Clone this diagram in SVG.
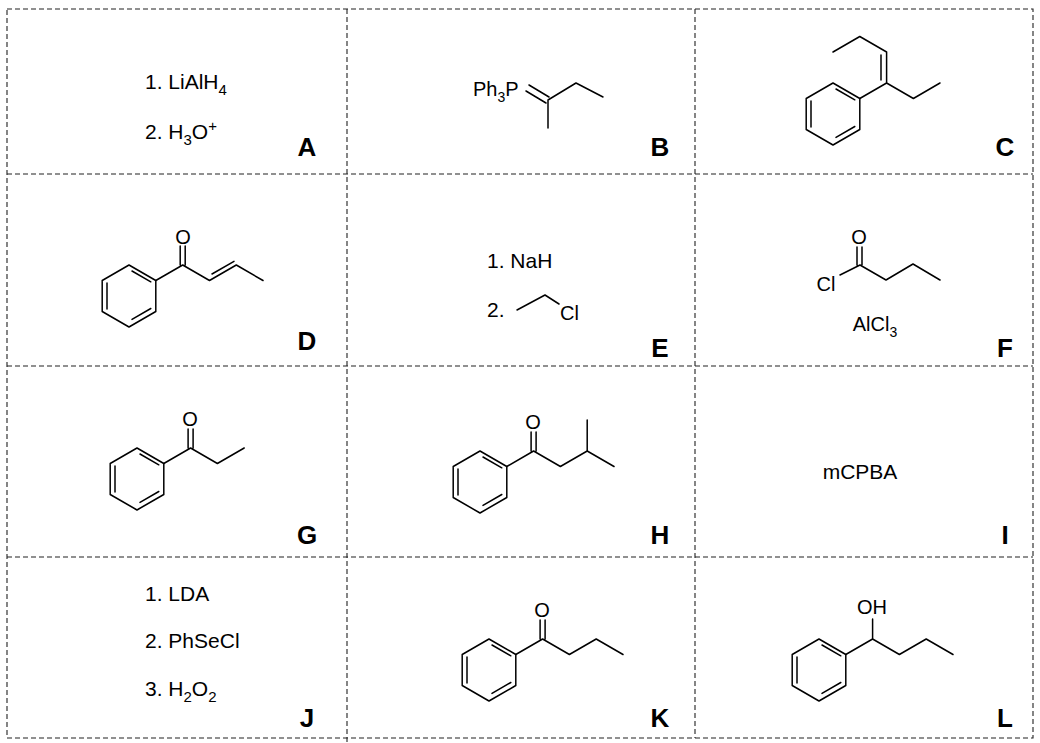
<svg xmlns="http://www.w3.org/2000/svg" width="1040" height="743" viewBox="0 0 1040 743">
<style>
.g{stroke:#222;stroke-width:1.1;stroke-dasharray:5 3;fill:none}
.b{stroke:#000;stroke-width:1.5;fill:none;stroke-linecap:round;stroke-linejoin:round}
text{font-family:"Liberation Sans",Arial,sans-serif;fill:#000}
.r{font-size:21px}
.a{font-size:20px}
.L{font-size:26px;font-weight:bold;text-anchor:middle}
</style>
<defs>
<g id="ph">
<polygon class="b" points="0,-31 26.8,-15.5 26.8,15.5 0,31 -26.8,15.5 -26.8,-15.5"/>
<path class="b" d="M3,-25 L21.8,-14.2 M21.8,12.5 L3,23.4 M-22,13 L-22,-13"/>
</g>
</defs>
<g id="grid">
<rect class="g" x="7" y="9" width="1026" height="729"/>
<line class="g" x1="347" y1="9" x2="347" y2="743"/>
<line class="g" x1="695" y1="9" x2="695" y2="738"/>
<line class="g" x1="7" y1="174" x2="1033" y2="174"/>
<line class="g" x1="7" y1="366" x2="1033" y2="366"/>
<line class="g" x1="7" y1="557" x2="1033" y2="557"/>
</g>
<g id="A">
<text class="r" x="145" y="89">1. LiAlH<tspan font-size="15" dy="6">4</tspan></text>
<text class="r" x="145" y="139">2. H<tspan font-size="15" dy="6">3</tspan><tspan dy="-6">O</tspan><tspan font-size="15" dy="-8">+</tspan></text>
<text class="L" x="307" y="156">A</text>
</g>
<g id="B">
<text class="a" x="473" y="96">Ph<tspan font-size="14" dy="6">3</tspan><tspan dy="-6">P</tspan></text>
<path class="b" d="M529,85 L549,97 M526,91 L546,103 M548,100 L576,83 L603,97 M548,100 L548,128"/>
<text class="L" x="660" y="156">B</text>
</g>
<g id="C">
<use href="#ph" x="833" y="114"/>
<path class="b" d="M859.8,98.5 L886.6,83 L886.6,52 L859.8,36.5 L833,52 M881,80 L881,55 M886.6,83 L913.4,98.5 L940,83"/>
<text class="L" x="1005" y="156">C</text>
</g>
<g id="D">
<use href="#ph" x="129" y="296"/>
<path class="b" d="M155.8,280.5 L182.7,265 L209.5,280.5 L236.3,265 L263,280.5 M185.2,265 L185.2,246 M180.2,265 L180.2,246 M212,274 L234,261.3"/>
<text class="a" x="183" y="244" text-anchor="middle">O</text>
<text class="L" x="307" y="350">D</text>
</g>
<g id="E">
<text class="r" x="487" y="268">1. NaH</text>
<text class="r" x="487" y="317">2.</text>
<path class="b" d="M517,310 L545,295 L559,304"/>
<text class="a" x="560" y="320">Cl</text>
<text class="L" x="660" y="357">E</text>
</g>
<g id="F">
<path class="b" d="M840,275 L860,265 L886,280 L913,264 L940,280 M862,265 L862,247 M857,265 L857,247"/>
<text class="a" x="859" y="244" text-anchor="middle">O</text>
<text class="a" x="826" y="291" text-anchor="middle">Cl</text>
<text class="a" x="875" y="331" text-anchor="middle">AlCl<tspan font-size="14" dy="6">3</tspan></text>
<text class="L" x="1005" y="357">F</text>
</g>
<g id="G">
<use href="#ph" x="137" y="479"/>
<path class="b" d="M163.8,463.5 L190.6,448 L217.4,463.5 L244.2,448 M193.1,448 L193.1,429 M188.1,448 L188.1,429"/>
<text class="a" x="190" y="426" text-anchor="middle">O</text>
<text class="L" x="307" y="544">G</text>
</g>
<g id="H">
<use href="#ph" x="480" y="482"/>
<path class="b" d="M506.8,466.5 L533.6,451 L560.4,466.5 L587.2,451 L587.2,420 M587.2,451 L614,466.5 M536.1,451 L536.1,432 M531.1,451 L531.1,432"/>
<text class="a" x="533" y="429" text-anchor="middle">O</text>
<text class="L" x="660" y="544">H</text>
</g>
<g id="I">
<text class="r" x="860" y="479" text-anchor="middle">mCPBA</text>
<text class="L" x="1005" y="544">I</text>
</g>
<g id="J">
<text class="r" x="145" y="601">1. LDA</text>
<text class="r" x="145" y="648">2. PhSeCl</text>
<text class="r" x="145" y="696">3. H<tspan font-size="15" dy="6">2</tspan><tspan dy="-6">O</tspan><tspan font-size="15" dy="6">2</tspan></text>
<text class="L" x="307" y="727">J</text>
</g>
<g id="K">
<use href="#ph" x="489" y="670"/>
<path class="b" d="M515.8,654.5 L542.6,639 L569.4,654.5 L596.2,639 L623,654.5 M545.1,639 L545.1,620 M540.1,639 L540.1,620"/>
<text class="a" x="542" y="617" text-anchor="middle">O</text>
<text class="L" x="660" y="727">K</text>
</g>
<g id="L">
<use href="#ph" x="819" y="670"/>
<path class="b" d="M845.8,654.5 L872.6,639 L899.4,654.5 L926.2,639 L953,654.5 M872.6,639 L872.6,619"/>
<text class="a" x="872" y="614" text-anchor="middle">OH</text>
<text class="L" x="1005" y="727">L</text>
</g>
</svg>
